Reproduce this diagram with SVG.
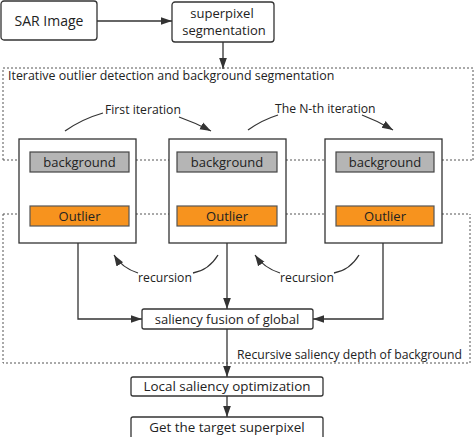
<svg xmlns="http://www.w3.org/2000/svg" width="474" height="437" viewBox="0 0 474 437">
<style>
text{font-family:"Open Sans","DejaVu Sans",sans-serif;fill:#222}
.box{fill:#fff;stroke:#333;stroke-width:1.3}
.bg{fill:#b5b5b5;stroke:#444;stroke-width:1.2}
.ol{fill:#f7931e;stroke:#555;stroke-width:1.2}
.dot{fill:none;stroke:#555;stroke-width:1;stroke-dasharray:2 2}
.ln{fill:none;stroke:#333;stroke-width:1.3}
</style>
<defs>
<marker id="ah" viewBox="0 0 10 10" refX="10" refY="5" markerWidth="8" markerHeight="8" orient="auto-start-reverse" markerUnits="userSpaceOnUse">
<path d="M0,1.5 L10,5 L0,8.5 z" fill="#333"/>
</marker>
<marker id="ah2" viewBox="0 0 10 10" refX="10" refY="5" markerWidth="11" markerHeight="11" orient="auto" markerUnits="userSpaceOnUse">
<path d="M0,1.5 L10,5 L0,8.5 z" fill="#333"/>
</marker>
</defs>
<g id="regions">
<path class="dot" d="M3,160 V68 H473 V160 M3,160 H19 M136,160 H169 M286,160 H325 M442,160 H473"/>
<path class="dot" d="M3,214 V363 H470 V214 M3,214 H19 M136,214 H169 M286,214 H325 M442,214 H470"/>
<text x="8" y="80" font-size="12.4">Iterative outlier detection and background segmentation</text>
<text x="462" y="359" font-size="12.2" text-anchor="end">Recursive saliency depth of background</text>
</g>
<g id="connectors">
<line class="ln" x1="97" y1="21" x2="172" y2="21" marker-end="url(#ah2)"/>
<line class="ln" x1="223" y1="42" x2="223" y2="69" marker-end="url(#ah2)"/>
<path class="ln" d="M65,131 Q82,119 103,113"/>
<path class="ln" d="M179,117 Q196,123 211,131" marker-end="url(#ah2)"/>
<path class="ln" d="M248,130 Q262,120 278,115"/>
<path class="ln" d="M362,115 Q378,121 393,130" marker-end="url(#ah2)"/>
<line class="ln" x1="80" y1="172" x2="80" y2="206" marker-start="url(#ah)" marker-end="url(#ah)"/>
<line class="ln" x1="228" y1="172" x2="228" y2="206" marker-start="url(#ah)" marker-end="url(#ah)"/>
<line class="ln" x1="385" y1="172" x2="385" y2="206" marker-start="url(#ah)" marker-end="url(#ah)"/>
<path class="ln" d="M218,255 Q209,270 193,273"/>
<path class="ln" d="M138,273 Q122,268 114,255" marker-end="url(#ah2)"/>
<path class="ln" d="M359,255 Q350,270 334,273"/>
<path class="ln" d="M280,273 Q264,268 255,255" marker-end="url(#ah2)"/>
<path class="ln" d="M78,243 V319 H142" marker-end="url(#ah2)"/>
<line class="ln" x1="227" y1="243" x2="227" y2="309" marker-end="url(#ah2)"/>
<path class="ln" d="M383,243 V319 H313" marker-end="url(#ah2)"/>
<line class="ln" x1="227" y1="329" x2="227" y2="377" marker-end="url(#ah2)"/>
<line class="ln" x1="227" y1="396" x2="227" y2="417" marker-end="url(#ah2)"/>
</g>
<g id="sar"><rect class="box" x="1" y="1" width="96" height="39" rx="3"/><text x="49" y="26" font-size="14" text-anchor="middle">SAR Image</text></g>
<g id="superpixel"><rect class="box" x="172" y="2" width="102" height="40" rx="3"/><text x="222" y="18" font-size="13" text-anchor="middle">superpixel</text><text x="224" y="35" font-size="13" text-anchor="middle">segmentation</text></g>
<text x="105" y="114" font-size="12.2">First iteration</text>
<text x="275" y="113" font-size="12.2">The N-th iteration</text>
<g id="iter1"><rect class="box" x="19" y="139" width="117" height="104"/><rect class="bg" x="30" y="152" width="99" height="20"/><text x="79.5" y="167" font-size="13" text-anchor="middle">background</text><rect class="ol" x="30" y="206" width="99" height="20"/><text x="79.5" y="221" font-size="13" text-anchor="middle">Outlier</text></g>
<g id="iter2"><rect class="box" x="169" y="139" width="117" height="104"/><rect class="bg" x="177" y="152" width="100" height="20"/><text x="227" y="167" font-size="13" text-anchor="middle">background</text><rect class="ol" x="177" y="206" width="100" height="20"/><text x="227" y="221" font-size="13" text-anchor="middle">Outlier</text></g>
<g id="iter3"><rect class="box" x="325" y="139" width="117" height="104"/><rect class="bg" x="336" y="152" width="98" height="20"/><text x="385" y="167" font-size="13" text-anchor="middle">background</text><rect class="ol" x="336" y="206" width="98" height="20"/><text x="385" y="221" font-size="13" text-anchor="middle">Outlier</text></g>
<text x="165" y="282" font-size="12.2" text-anchor="middle">recursion</text>
<text x="307" y="282" font-size="12.2" text-anchor="middle">recursion</text>
<g id="fusion"><rect class="box" x="142" y="309" width="171" height="20" rx="2"/><text x="227" y="324" font-size="13" text-anchor="middle">saliency fusion of global</text></g>
<g id="local"><rect class="box" x="131" y="377" width="192" height="19" rx="2"/><text x="227" y="391" font-size="13.4" text-anchor="middle">Local saliency optimization</text></g>
<g id="target"><rect class="box" x="131" y="417" width="192" height="22" rx="2"/><text x="227" y="432" font-size="13.4" text-anchor="middle">Get the target superpixel</text></g>
</svg>
